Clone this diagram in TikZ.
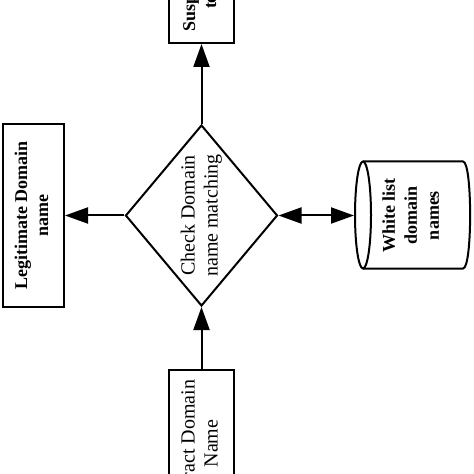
\documentclass[tikz,border=0pt]{standalone}
\usepackage{fontspec}
\setmainfont{Liberation Serif}
\usepackage{graphicx}
\usetikzlibrary{shapes.geometric,arrows.meta}
\newcommand{\rtext}[1]{\rotatebox{90}{\begin{tabular}{@{}c@{}}#1\end{tabular}}}
\begin{document}
\begin{tikzpicture}[x=1bp,y=-1bp, line width=2bp,
  box/.style={draw, rectangle, inner sep=0pt},
  arr/.style={-{Triangle[length=23bp,width=16bp]}},
  darr/.style={{Triangle[length=23bp,width=16bp]}-{Triangle[length=23bp,width=16bp]}},
  regf/.style={font=\fontsize{20bp}{23bp}\selectfont},
  boldf/.style={font=\fontsize{18bp}{21bp}\selectfont\bfseries}]
\useasboundingbox (0,0) rectangle (474,474);
\clip (0,0) rectangle (474,474);
\fill[white] (0,0) rectangle (474,474);

\node[box, boldf, minimum width=61bp, minimum height=183bp] (legit) at (33.5,215.5) {\rtext{Legitimate Domain\\name}};
\node[draw, diamond, regf, inner sep=0pt, aspect=0.84, minimum width=152bp, minimum height=181bp] (dia) at (201.5,215.5) {\rtext{Check Domain\\name matching}};
\node[box, boldf, minimum width=65bp, minimum height=170bp] (susp) at (201.5,-42) {\rtext{Suspicious Domain\\to be blocked}};
\node[box, regf, minimum width=65bp, minimum height=147bp] (extract) at (201.5,443.5) {\rtext{Extract Domain\\Name}};
\node[font=\fontsize{18bp}{22bp}\selectfont\bfseries, inner sep=0pt, minimum width=115bp, minimum height=107bp] (wl) at (412.5,215.5) {\rtext{White list\\domain\\names}};

% cylinder outline
\draw (363,215) ellipse [x radius=8bp, y radius=53.5bp];
\draw (363,161.5) -- (463,161.5) .. controls (472.5,161.5) and (472.5,268.5) .. (463,268.5) -- (363,268.5);

\draw[arr] (dia) -- (legit);
\draw[arr] (dia) -- (susp);
\draw[arr] (extract) -- (dia);
\draw[darr] (dia) -- (wl);
\end{tikzpicture}
\end{document}
